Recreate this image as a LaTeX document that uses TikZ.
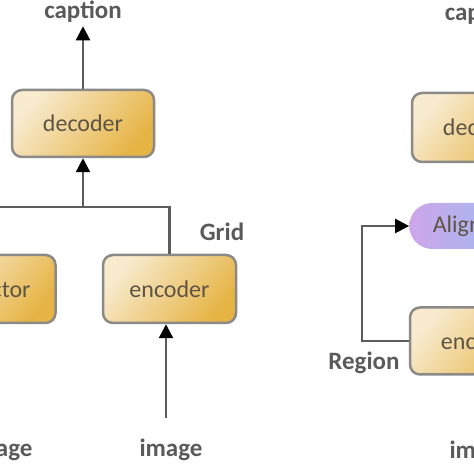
\documentclass[tikz,border=0pt]{standalone}
\usepackage{fontspec}
\setmainfont{Carlito}
\usetikzlibrary{arrows.meta, positioning, calc, shapes.misc}

\definecolor{boxlight}{HTML}{F8EBD0}
\definecolor{boxdark}{HTML}{E6B445}
\definecolor{boxedge}{HTML}{8C8A86}
\definecolor{boxtext}{HTML}{5E5444}
\definecolor{labeltext}{HTML}{5A5A5A}
\definecolor{alignleft}{HTML}{CDA6EA}
\definecolor{alignright}{HTML}{8CC4F4}
\definecolor{linkgray}{HTML}{5C5C5C}

\begin{document}
\begin{tikzpicture}[x=1pt, y=1pt, >={Triangle[length=14pt, width=14pt, color=black]},
  block/.style={draw=boxedge, line width=2.5pt, rounded corners=10pt, top color=boxlight, bottom color=boxdark, shading angle=50, text=boxtext, font=\fontsize{24}{28}\selectfont, minimum width=142pt, minimum height=67pt},
  tag/.style={text=labeltext, font=\fontsize{25}{30}\selectfont\bfseries},
  link/.style={draw=linkgray, line width=2.4pt}]

	\useasboundingbox (0,0) rectangle (474,474);
	\clip (0,0) rectangle (474,474);

	% Left model: grid features
	\node[block] (dec) at (83,350.5) {decoder};
	\node[tag] (cap) at (83,462) {caption};
	\node[block, minimum width=133pt, minimum height=68pt] (enc) at (169.5,185) {encoder};
	\node[block, minimum width=133pt, minimum height=68pt, left=45pt of enc] (det) {detector};
	\node[tag] (img) at (171,24) {image};
	\node[tag] (imgdet) at (1,24) {image};
	\node[tag] (grid) at (222,242) {Grid};
	\coordinate (bus) at (83,267);

	% Connections
	\draw[link] (det.north) |- (bus) -| (enc.north);
	\draw[link, ->] (bus) -- (dec.south);
	\draw[link, ->] (dec.north) -- (cap.south);
	\draw[link, ->, shorten <=18pt] (img.north -| 166,0) -- (enc.south -| 166,0);

	% Right model: region features
	\node[block, minimum height=69pt] (dec2) at (483,346.5) {decoder};
	\node[tag] (cap2) at (483.5,460) {caption};
	\node[rounded rectangle, left color=alignleft, right color=alignright, text=boxtext, font=\fontsize{24}{28}\selectfont, minimum width=154pt, minimum height=46pt] (align) at (483,248) {Alignment};
	\node[block] (enc2) at (481,133) {encoder};
	\node[tag] (img2) at (481,22) {image};
	\node[tag] (region) at (364,111) {Region};

	% Connections
	\draw[link, ->] (enc2.west) -- ++(-47,0) |- (align.west);

\end{tikzpicture}
\end{document}
